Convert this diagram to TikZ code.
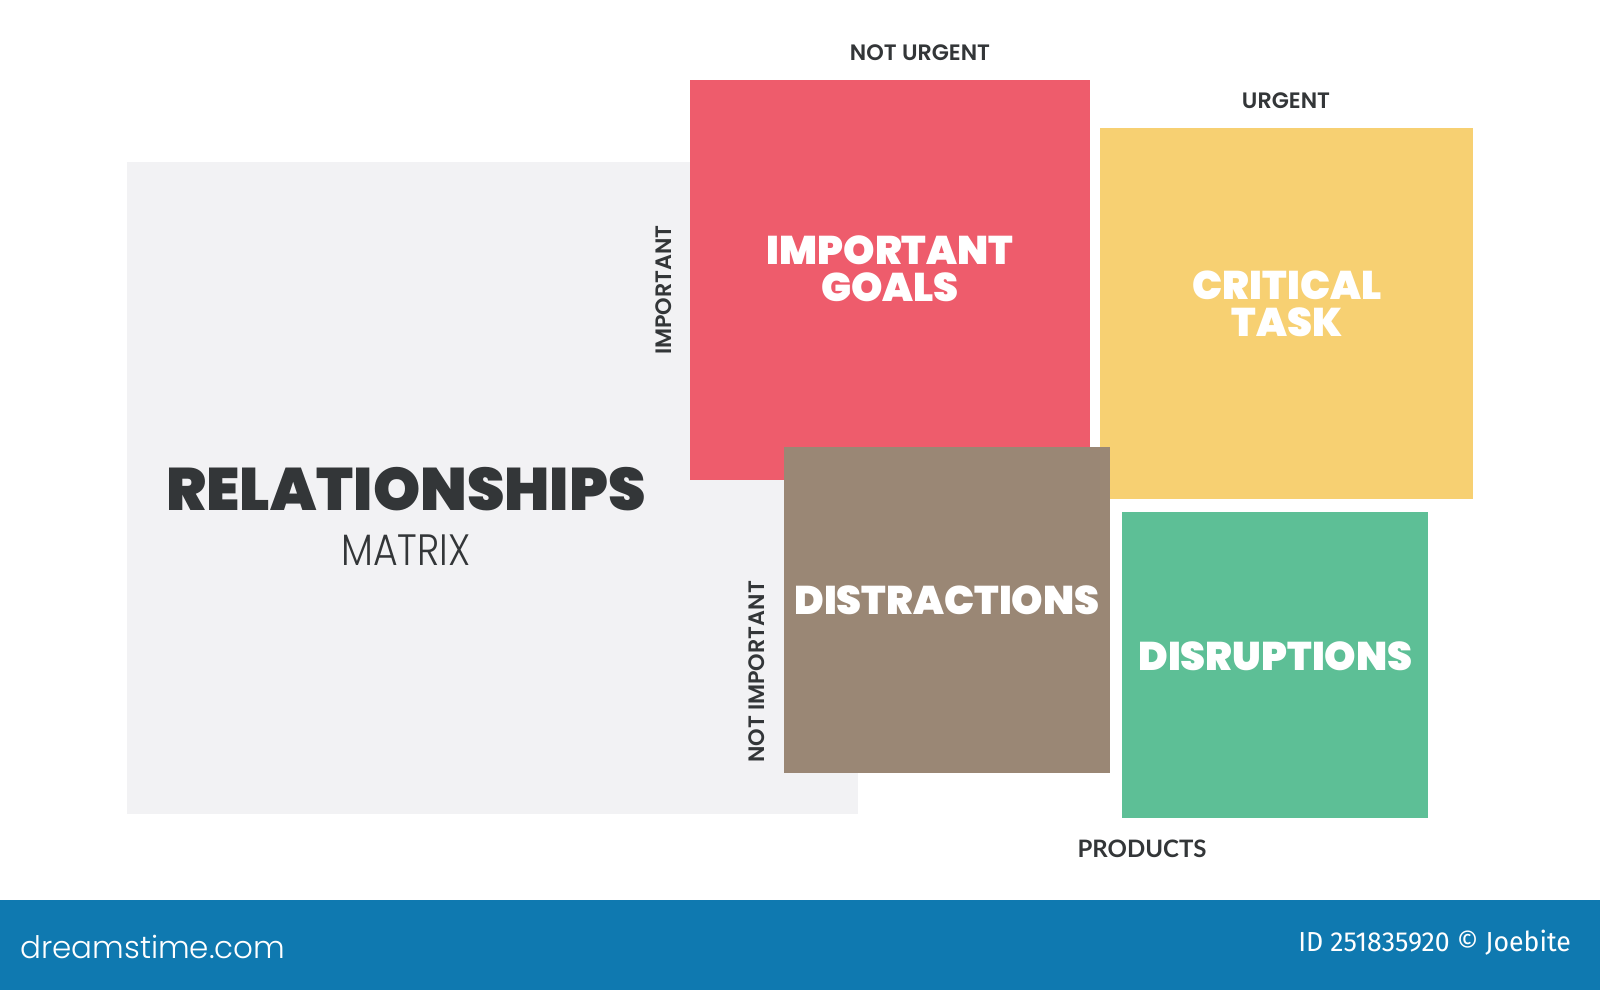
\documentclass[tikz,border=0pt]{standalone}
\usepackage{fontspec}
\usepackage{graphicx}
\setmainfont{Poppins}
\IfFontExistsTF{Poppins Black}{\newfontfamily\popheavy{Poppins Black}}{\IfFontExistsTF{Poppins ExtraBold}{\newfontfamily\popheavy{Poppins ExtraBold}[FakeBold=1.2]}{\newfontfamily\popheavy{Poppins Bold}[FakeBold=2]}}
\IfFontExistsTF{Poppins SemiBold}{\newfontfamily\popsemi{Poppins SemiBold}}{\newfontfamily\popsemi{Poppins Medium}}
\IfFontExistsTF{Poppins Light}{\newfontfamily\poplight{Poppins Light}}{\newfontfamily\poplight{Poppins}}
\newfontfamily\lato{Lato}
\newfontfamily\fira{Fira Sans}
\definecolor{gbg}{HTML}{F2F2F4}
\definecolor{cred}{HTML}{EE5C6C}
\definecolor{cyel}{HTML}{F7D072}
\definecolor{cbrn}{HTML}{9A8775}
\definecolor{cgrn}{HTML}{5DBF96}
\definecolor{ink}{HTML}{333638}
\definecolor{cbar}{HTML}{0F79B0}
\tikzset{
  tile/.style={draw=none, inner sep=0pt, outer sep=0pt, anchor=north west},
  lbl/.style={inner sep=0pt, text=white, align=center, font=\popheavy\fontsize{40}{37}\selectfont},
  axislbl/.style={inner sep=0pt, text=ink, font=\popsemi\fontsize{22.3}{24}\selectfont},
}
\begin{document}
\begin{tikzpicture}[x=1pt,y=-1pt]
\useasboundingbox (0,0) rectangle (1600,990);
\fill[white] (0,0) rectangle (1600,990);
% tiles
\node[tile, fill=gbg, minimum width=731.5pt, minimum height=652pt] (bg) at (126.5,162) {};
\node[tile, fill=cred, minimum width=400pt, minimum height=400pt] (red) at (690,80) {};
\node[tile, fill=cyel, minimum width=372.5pt, minimum height=371.5pt] (yel) at (1100,127.5) {};
\node[tile, fill=cbrn, minimum width=326pt, minimum height=326pt] (brn) at (784,447) {};
\node[tile, fill=cgrn, minimum width=306pt, minimum height=306pt] (grn) at (1122,512) {};
% tile labels
\node[lbl] (tg) at (890,269) {IMPORTANT\\GOALS};
\node[lbl] (tc) at (1287,304) {CRITICAL\\TASK};
\node[lbl] (td) at (947,600) {DISTRACTIONS};
\node[lbl] (tr) at (1275.5,656.5) {DISRUPTIONS};
% axis labels
\node[axislbl] (nu) at (920,53) {NOT URGENT};
\node[axislbl] (ur) at (1286,101) {URGENT};
\node[axislbl, rotate=90] (im) at (663.5,290) {IMPORTANT};
\node[axislbl, rotate=90] (ni) at (757,672) {NOT IMPORTANT};
\node[inner sep=0pt, text=ink, font=\lato\bfseries\fontsize{24}{26}\selectfont] (pr) at (1142,849) {PRODUCTS};
% title
\node[inner sep=0pt, text=ink, font=\popheavy\fontsize{60}{64}\selectfont] (rel) at (406,489) {RELATIONSHIPS};
\node[inner sep=0pt, text=ink, font=\poplight\fontsize{36}{40}\selectfont] (mat) at (406,550) {\scalebox{1.05}[1.22]{MATRIX}};
% bottom bar
\node[tile, fill=cbar, minimum width=1600pt, minimum height=90pt] (bar) at (0,900) {};
\node[inner sep=0pt, anchor=west, text=white, font=\poplight\fontsize{31}{34}\selectfont] (ds) at (20,947) {dreamstime.com};
\node[inner sep=0pt, anchor=east, text=white, font=\fira\fontsize{27.5}{30}\selectfont] (id) at (1571,943) {\scalebox{0.97}[1]{ID 251835920 © Joebite}};
\end{tikzpicture}
\end{document}
